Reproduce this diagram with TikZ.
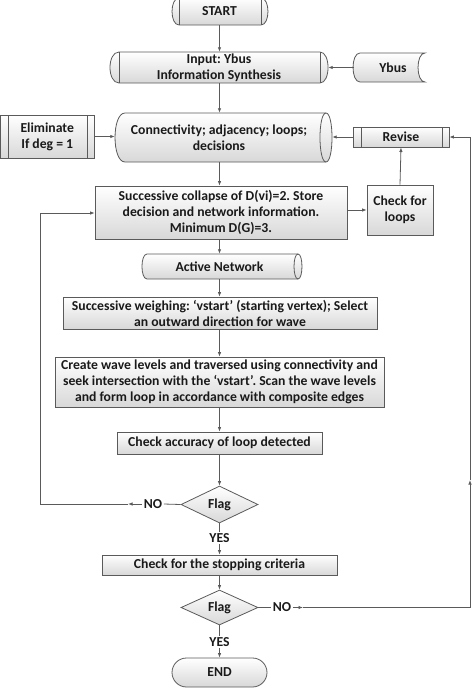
\documentclass[tikz,border=0pt]{standalone}
\usepackage{fontspec}
\setmainfont{Carlito}
\usetikzlibrary{arrows.meta,shapes.geometric}
\definecolor{lc}{HTML}{5A5A5A}
\definecolor{fc}{HTML}{D8D8D8}
\definecolor{tc}{HTML}{1A1A1A}
\frenchspacing
\begin{document}
\begin{tikzpicture}[x=1pt,y=-1pt,
  font=\fontsize{13.7}{16}\selectfont\bfseries, text=tc,
  box/.style={draw=lc, line width=0.8pt, top color=white, bottom color=fc, align=center, inner sep=0pt},
  plain/.style={align=center, inner sep=0pt},
  shp/.style={draw=lc, line width=0.8pt, top color=white, bottom color=fc},
  ln/.style={draw=lc, line width=0.8pt},
  conn/.style={draw=lc, line width=0.8pt, -{Latex[length=4.5pt,width=3.5pt]}},
  decision/.style={diamond, draw=lc, line width=0.8pt, top color=white, bottom color=fc, inner sep=0pt, minimum width=77pt, minimum height=37pt},
  lbl/.style={inner sep=1.5pt, fill=white}]
\useasboundingbox (0,0) rectangle (474,688);
\coordinate (axis) at (219.5,0);

% START
\path[shp] (179,-2) -- (261,-2) .. controls (270.3,-2) and (270.3,25) .. (261,25) -- (179,25) .. controls (169.7,25) and (169.7,-2) .. (179,-2) -- cycle;
\draw[ln] (179,-2) -- (179,25) (261,-2) -- (261,25);
\node[plain, minimum width=96pt, minimum height=27pt] (start) at (219.5,11.5) {START};

% Input
\path[shp] (119,52) -- (320,52) .. controls (330.7,52) and (330.7,83) .. (320,83) -- (119,83) .. controls (107,83) and (107,52) .. (119,52) -- cycle;
\draw[ln] (119,52) -- (119,83) (320,52) -- (320,83);
\node[plain, minimum width=218pt, minimum height=31pt] (input) at (219,67.5) {Input: Ybus\\Information Synthesis};

% Ybus
\path[shp] (360,53) -- (425,53) .. controls (415.7,53) and (415.7,82) .. (425,82) -- (360,82) .. controls (350.7,82) and (350.7,53) .. (360,53) -- cycle;
\node[plain, minimum width=72pt, minimum height=29pt] (ybus) at (390,67.5) {\hspace*{6pt}Ybus};

% Connectivity (horizontal cylinder)
\path[shp] (125,113) -- (326,113) .. controls (334,113) and (334,162) .. (326,162) -- (125,162) .. controls (111.7,162) and (111.7,113) .. (125,113) -- cycle;
\draw[ln] (326,113) .. controls (318,113) and (318,162) .. (326,162);
\node[plain, minimum width=217pt, minimum height=49pt] (conn) at (223.5,137.5) {};
\node[plain] (conntext) at (219,137.5) {Connectivity; adjacency; loops;\\decisions};

% Eliminate
\node[box, minimum width=93.5pt, minimum height=43pt] (elim) at (47.25,136.5) {Eliminate\\If deg = 1};
\draw[ln] (8,115) -- (8,158) (87,115) -- (87,158);

% Revise
\node[box, minimum width=96pt, minimum height=20pt] (revise) at (401,137) {Revise};
\draw[ln] (361,127) -- (361,147) (442,127) -- (442,147);

% Collapse
\node[box, minimum width=252pt, minimum height=53pt] (collapse) at (221,212.5) {Successive collapse of D(vi)=2. Store\\decision and network information.\\Minimum D(G)=3.};

% Check for loops
\node[box, minimum width=66pt, minimum height=50pt] (check) at (400,210) {Check for\\loops};

% Active Network
\path[shp] (147,254) -- (298,254) .. controls (303.3,254) and (303.3,279) .. (298,279) -- (147,279) .. controls (140.3,279) and (140.3,254) .. (147,254) -- cycle;
\draw[ln] (298,254) .. controls (292.7,254) and (292.7,279) .. (298,279);
\node[plain, minimum width=160pt, minimum height=25pt] (active) at (219.5,266.5) {Active Network};

% Weighing
\node[box, minimum width=314pt, minimum height=32pt] (weigh) at (220,313) {Successive weighing: ‘vstart’ (starting vertex); Select\\an outward direction for wave};

% Wave
\node[box, minimum width=329pt, minimum height=50pt] (wave) at (219.5,382) {Create wave levels and traversed using connectivity and\\seek intersection with the ‘vstart’. Scan the wave levels\\and form loop in accordance with composite edges};

% Accuracy
\node[box, minimum width=205pt, minimum height=22pt] (acc) at (219.5,443) {Check accuracy of loop detected};

% Flag 1
\node[decision] (flag1) at (219.5,504.5) {Flag};
\node[lbl] (yes1) at (219.5,538) {YES};
\node[lbl] (no1) at (153,504) {NO};

% Stop
\node[box, minimum width=235pt, minimum height=20pt] (stop) at (219.5,565) {Check for the stopping criteria};

% Flag 2
\node[decision, minimum height=35pt] (flag2) at (219.5,607.5) {Flag};
\node[lbl] (yes2) at (219.5,642) {YES};
\node[lbl] (no2) at (282,607.5) {NO};

% END
\node[box, rounded corners=14.5pt, minimum width=95pt, minimum height=29pt] (end) at (219.5,672.5) {END};

% connectors
\draw[conn] (start.south -| axis) -- (input.north -| axis);
\draw[conn] (input.south -| axis) -- (conn.north -| axis);
\draw[conn] (ybus.west) -- (input.east);
\draw[conn] (elim.east) -- (conn.west |- elim.east);
\draw[conn] (revise.west) -- (conn.east |- revise.west);
\draw[conn] (conn.south -| axis) -- (collapse.north -| axis);
\draw[conn] (collapse.east |- check.west) -- (check.west);
\draw[conn] (check.north) -- (revise.south);
\draw[conn] (collapse.south -| axis) -- (active.north -| axis);
\draw[conn] (active.south -| axis) -- (weigh.north -| axis);
\draw[conn] (weigh.south -| axis) -- (wave.north -| axis);
\draw[conn] (wave.south -| axis) -- (acc.north -| axis);
\draw[conn] (acc.south) -- (flag1.north);
\draw[ln] (flag1.south) -- (yes1.north);
\draw[conn] (yes1.south) -- (stop.north);
\draw[conn] (stop.south) -- (flag2.north);
\draw[ln] (flag2.south) -- (yes2.north);
\draw[conn] (yes2.south) -- (end.north);

% left loop
\coordinate (la) at (128,504);
\coordinate (lc) at (40,504);
\draw[ln] (flag1.west) -- (no1.east);
\draw[conn] (no1.west) -- (la);
\draw[conn] (la) -- (lc) |- (collapse.west |- 0,213);

% right loop
\coordinate (ra) at (303,607.5);
\coordinate (rc) at (470,607.5);
\coordinate (ru) at (470,480);
\draw[ln] (flag2.east) -- (no2.west);
\draw[conn] (no2.east) -- (ra);
\draw[conn] (ra) -- (rc) -- (ru);
\draw[conn] (ru) |- (revise.east);
\end{tikzpicture}
\end{document}
